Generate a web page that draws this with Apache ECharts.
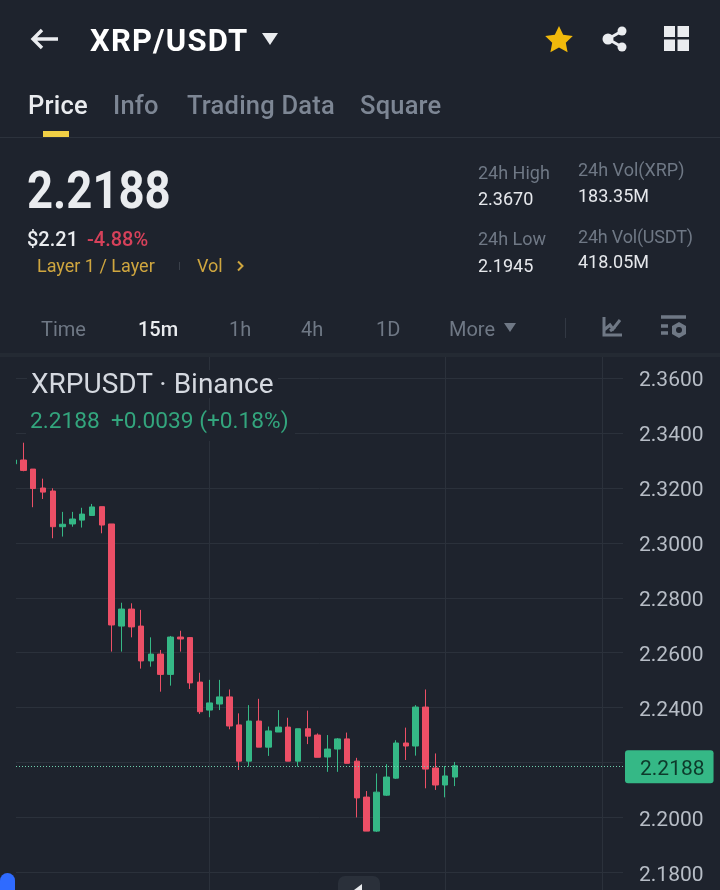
<!DOCTYPE html>
<html>
<head>
<meta charset="utf-8">
<title>XRP/USDT</title>
<script src="https://cdn.jsdelivr.net/npm/echarts@6/dist/echarts.min.js"></script>
<style>
  html, body { margin: 0; padding: 0; width: 720px; height: 890px; overflow: hidden; background: #1e232d; }
  body { position: relative; font-family: Roboto, sans-serif; color: #eaecef; }
  #chart { position: absolute; left: 0; top: 0; width: 720px; height: 890px; }
  .t { position: absolute; white-space: nowrap; transform: translateY(-50%); line-height: 1; z-index: 2; }
  .bar { position: absolute; z-index: 2; }
  svg { position: absolute; z-index: 2; }
  .tab { font-size: 25.5px; font-weight: 500; color: #7d8694; letter-spacing: 0.2px; }
  .lbl { font-size: 18px; color: #6f7885; }
  .val { font-size: 18px; color: #e6e8ec; }
  .rng { font-size: 20px; color: #6f7885; }
  .gold { font-size: 18px; color: #cfa63f; }
</style>
</head>
<body>
<div id="chart"></div>

<svg style="left:30px;top:27px" width="30" height="24" viewBox="0 0 30 24"><path d="M12 3 3 12l9 9M3 12h25" fill="none" stroke="#eaecef" stroke-width="3.4"/></svg>
<div class="t" style="left:90px;top:40px;font-size:31px;font-weight:700;letter-spacing:1.2px;color:#fff">XRP/USDT</div>
<svg style="left:261px;top:32px" width="18" height="14" viewBox="0 0 18 14"><path d="M1 1h16L9 13z" fill="#eaecef"/></svg>
<svg style="left:544px;top:25px" width="30" height="29" viewBox="0 0 30 29"><path d="M15 1l4.2 8.8 9.6 1.2-7 6.7 1.8 9.6L15 22.6l-8.600 4.700 1.800-9.600-7-6.700 9.600-1.200z" fill="#f0b90b"/></svg>
<svg style="left:601px;top:25px" width="28" height="28" viewBox="0 0 28 28"><g fill="#eaecef"><circle cx="7" cy="14" r="5.500"/><circle cx="21" cy="6" r="4.500"/><circle cx="21" cy="22" r="4.500"/></g><path d="M7 14 21 6M7 14l14 8" stroke="#eaecef" stroke-width="3"/></svg>
<svg style="left:664px;top:26px" width="25" height="25" viewBox="0 0 25 25"><path d="M0 0h11v11H0zM13.500 0H25v11H13.500zM0 13.500h11V25H0zM13.500 13.500H25V25H13.500z" fill="#eaecef"/></svg>

<div class="t tab" style="left:28px;top:106px;color:#eaecef">Price</div>
<div class="t tab" style="left:113px;top:106px">Info</div>
<div class="t tab" style="left:187px;top:106px">Trading Data</div>
<div class="t tab" style="left:360px;top:106px">Square</div>
<div class="bar" style="left:43px;top:131px;width:26px;height:6px;background:#f0cf45"></div>
<div class="bar" style="left:0;top:137px;width:720px;height:1px;background:#2c323c"></div>

<div class="t" style="left:27px;top:191px;font-size:52px;font-weight:700;color:#eaecef;transform-origin:left center;transform:translateY(-50%) scaleX(0.875)">2.2188</div>
<div class="t" style="left:27px;top:239px;font-size:20px;font-weight:500">$2.21</div>
<div class="t" style="left:87px;top:239px;font-size:20px;font-weight:500;color:#d6415a">-4.88%</div>
<div class="t gold" style="left:37px;top:266px">Layer 1 / Layer</div>
<div class="bar" style="left:179px;top:262px;width:1px;height:8px;background:#3a404a"></div>
<div class="t gold" style="left:197px;top:266px">Vol</div>
<svg style="left:236px;top:260px" width="9" height="12" viewBox="0 0 9 12"><path d="M2 1.500 6.500 6 2 10.500" fill="none" stroke="#cfa63f" stroke-width="2"/></svg>

<div class="t lbl" style="left:478px;top:173px">24h High</div>
<div class="t val" style="left:478px;top:199px">2.3670</div>
<div class="t lbl" style="left:478px;top:239px">24h Low</div>
<div class="t val" style="left:478px;top:266px">2.1945</div>
<div class="t lbl" style="left:578px;top:170px">24h Vol(XRP)</div>
<div class="t val" style="left:578px;top:196px">183.35M</div>
<div class="t lbl" style="left:578px;top:237px;letter-spacing:-0.2px">24h Vol(USDT)</div>
<div class="t val" style="left:578px;top:262px">418.05M</div>

<div class="t rng" style="left:41px;top:329px">Time</div>
<div class="t rng" style="left:138px;top:329px;font-weight:500;color:#eaecef">15m</div>
<div class="t rng" style="left:229px;top:329px">1h</div>
<div class="t rng" style="left:301px;top:329px">4h</div>
<div class="t rng" style="left:376px;top:329px">1D</div>
<div class="t rng" style="left:449px;top:329px">More</div>
<svg style="left:503px;top:322px" width="14" height="11" viewBox="0 0 14 11"><path d="M1 1h12L7 10z" fill="#6f7885"/></svg>
<div class="bar" style="left:565px;top:318px;width:1px;height:20px;background:#323843"></div>
<svg style="left:602px;top:316px" width="21" height="22" viewBox="0 0 21 22"><path d="M2 1v18h18M2 14l6-5 3 4 7-9M8 15l5-4" fill="none" stroke="#6f7885" stroke-width="3"/></svg>
<svg style="left:660px;top:315px" width="27" height="27" viewBox="0 0 27 27"><path d="M1 2h25M1 11h7M1 18h7" stroke="#6f7885" stroke-width="3.600" fill="none"/><path d="M19 7l7 4v8l-7 4-7-4v-8z" fill="#6f7885"/><circle cx="19" cy="15" r="3" fill="#1e232d"/></svg>

<div class="bar" style="left:0;top:353px;width:720px;height:4px;background:#242a33"></div>

<div class="t" style="left:27px;top:384px;padding:0 4px;font-size:28px;color:#d5d9e0;background:#1e232d">XRPUSDT · Binance</div>
<div class="t" style="left:26px;top:421px;padding:0 6px 8px 4px;font-size:22.7px;color:#33a57d;background:#1e232d;transform:translateY(-11px);white-space:pre">2.2188  +0.0039 (+0.18%)</div>

<!-- candlestick clip only drops whole candles, so the cut one is masked at the left edge -->
<div class="bar" style="left:0;top:452px;width:16px;height:20px;background:#1e232d"></div>

<div class="bar" style="left:0;top:873px;width:15px;height:17px;border-radius:8px 8px 0 0;background:#2f6bff"></div>
<div class="bar" style="left:338px;top:876px;width:42px;height:14px;border-radius:7px 7px 0 0;background:#2a303a"></div>
<svg style="left:354px;top:884px" width="9" height="6" viewBox="0 0 9 6"><path d="M8 0v6H0z" fill="#eaecef"/></svg>

<script>
// candles, oldest first; the first one is cut by the left edge
const opens = [2.3288, 2.3302, 2.3269, 2.3200, 2.3189, 2.3059, 2.3069, 2.3083, 2.3100, 2.3132,
  2.3069, 2.2697, 2.2759, 2.2697, 2.2570, 2.2595, 2.2521, 2.2657, 2.2655, 2.2493,
  2.2391, 2.2413, 2.2439, 2.2337, 2.2205, 2.2351, 2.2256, 2.2311, 2.2329, 2.2205,
  2.2323, 2.2300, 2.2220, 2.2249, 2.2286, 2.2205, 2.2074, 2.1950, 2.2081, 2.2143,
  2.2271, 2.2260, 2.2402, 2.2180, 2.2118, 2.2147];
const closes = [2.3302, 2.3264, 2.3198, 2.3185, 2.3059, 2.3068, 2.3087, 2.3105, 2.3131, 2.3065,
  2.2701, 2.2759, 2.2694, 2.2570, 2.2595, 2.2521, 2.2657, 2.2650, 2.2490, 2.2385,
  2.2417, 2.2439, 2.2333, 2.2205, 2.2351, 2.2256, 2.2315, 2.2329, 2.2205, 2.2323,
  2.2296, 2.2219, 2.2249, 2.2286, 2.2197, 2.2071, 2.1950, 2.2092, 2.2147, 2.2271,
  2.2260, 2.2402, 2.2176, 2.2118, 2.2151, 2.2188];
const lows = [2.3288, 2.3261, 2.3130, 2.3160, 2.3017, 2.3023, 2.3059, 2.3056, 2.3098, 2.3035,
  2.2604, 2.2604, 2.2656, 2.2542, 2.2549, 2.2458, 2.2480, 2.2604, 2.2468, 2.2377,
  2.2365, 2.2391, 2.2321, 2.2173, 2.2185, 2.2256, 2.2224, 2.2311, 2.2205, 2.2185,
  2.2267, 2.2219, 2.2166, 2.2166, 2.2197, 2.2000, 2.1950, 2.1947, 2.2078, 2.2140,
  2.2209, 2.2225, 2.2106, 2.2100, 2.2073, 2.2114];
const highs = [2.3302, 2.3365, 2.3269, 2.3234, 2.3199, 2.3113, 2.3113, 2.3128, 2.3142, 2.3132,
  2.3069, 2.2782, 2.2780, 2.2756, 2.2656, 2.2610, 2.2661, 2.2680, 2.2657, 2.2527,
  2.2501, 2.2501, 2.2466, 2.2379, 2.2409, 2.2432, 2.2331, 2.2391, 2.2363, 2.2323,
  2.2389, 2.2306, 2.2300, 2.2289, 2.2309, 2.2217, 2.2096, 2.2160, 2.2194, 2.2281,
  2.2327, 2.2409, 2.2466, 2.2233, 2.2187, 2.2202];

const priceTicks = [2.18, 2.20, 2.22, 2.24, 2.26, 2.28, 2.30, 2.32, 2.34, 2.36];
const timeTicks = [20, 44, 60];
const lastPrice = 2.2188;

const gridColor = '#2b313b';
const upColor = '#35b886';
const downColor = '#ec4f66';

const candles = opens.map((open, i) => [i, open, closes[i], lows[i], highs[i]]);

const chart = echarts.init(document.getElementById('chart'));
chart.setOption({
  animation: false,
  grid: { left: 16, right: 97, top: 356, bottom: 0 },
  xAxis: {
    type: 'value',
    min: 0.25,
    max: 62.13,
    axisLine: { show: false },
    axisLabel: { show: false },
    axisTick: { show: false, customValues: timeTicks },
    splitLine: { show: true, lineStyle: { color: gridColor, width: 1 } },
  },
  yAxis: {
    type: 'value',
    position: 'right',
    min: 2.17355,
    max: 2.36809,
    axisLine: { show: false },
    axisTick: { show: false, customValues: priceTicks },
    axisLabel: {
      customValues: priceTicks,
      color: '#b7bdc6',
      fontFamily: 'Roboto',
      fontSize: 21,
      margin: 16,
      verticalAlign: 'top',
      lineHeight: 6,
      formatter: (v) => v.toFixed(4),
    },
    splitLine: { show: true, lineStyle: { color: gridColor, width: 1 } },
  },
  series: [{
    type: 'candlestick',
    data: candles,
    encode: { x: 0, y: [1, 2, 3, 4] },
    barWidth: 6,
    itemStyle: {
      color: upColor,
      color0: downColor,
      borderColor: upColor,
      borderColor0: downColor,
      borderWidth: 1,
    },
    markLine: {
      silent: true,
      symbol: 'none',
      precision: 4,
      data: [{ yAxis: lastPrice }],
      lineStyle: { color: '#6fd0ae', type: [1, 2], width: 1 },
      label: {
        position: 'end',
        distance: 2,
        offset: [0, 1],
        formatter: '{v|' + lastPrice.toFixed(4) + '}',
        rich: { v: { color: '#0d3a2b', fontFamily: 'Roboto', fontSize: 21, padding: [5, 0, 0, 0] } },
        backgroundColor: upColor,
        borderRadius: 3,
        padding: [4, 9, 3, 15],
      },
    },
  }],
});
</script>
</body>
</html>
